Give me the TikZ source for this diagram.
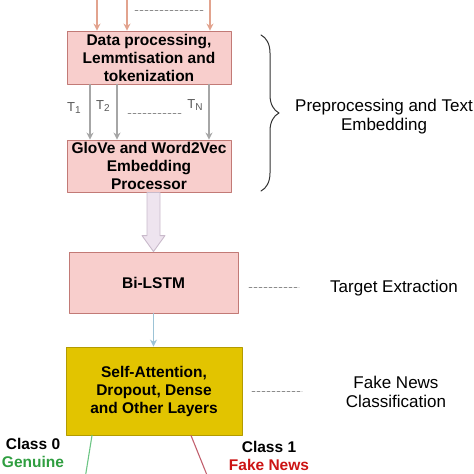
\documentclass[tikz,border=0pt]{standalone}
\usepackage{fontspec}
\setmainfont{Liberation Sans}
\usepackage{tikz}
\usetikzlibrary{calc}
\usetikzlibrary{arrows.meta}
\usetikzlibrary{decorations.pathreplacing}
\definecolor{boxfill}{HTML}{F8CECC}
\definecolor{boxline}{HTML}{C27A76}
\definecolor{attnfill}{HTML}{E2C400}
\definecolor{attnline}{HTML}{B39B00}
\definecolor{inarrow}{HTML}{E2A38E}
\definecolor{tokarrow}{HTML}{A6A6A6}
\definecolor{hollowfill}{HTML}{EEE4EF}
\definecolor{hollowline}{HTML}{C9BACB}
\definecolor{tealarrow}{HTML}{9CC3D6}
\definecolor{tealtip}{HTML}{5E9E86}
\definecolor{genuine}{HTML}{2F9E40}
\definecolor{fakenews}{HTML}{CC1414}
\definecolor{genline}{HTML}{6CC584}
\definecolor{fakeline}{HTML}{C2606E}
\newcommand{\tsub}[1]{\raisebox{-2.5pt}{\fontsize{10}{12}\selectfont #1}}

\begin{document}
\begin{tikzpicture}[x=1pt, y=-1pt, line cap=round, line join=round, >={Stealth[length=7pt, width=7pt]},
    box/.style={draw=boxline, fill=boxfill, line width=0.9pt, align=center, inner sep=0pt,
      font=\fontsize{15.5}{18}\selectfont\bfseries},
    side/.style={align=center, font=\fontsize{17}{19}\selectfont},
    classlbl/.style={align=center, font=\fontsize{15.5}{17.5}\selectfont\bfseries},
    tlbl/.style={text=black!65, font=\fontsize{13}{15}\selectfont},
    dots/.style={densely dashed, draw=black!45, line width=0.8pt},
    hollow/.style={draw=hollowline, fill=hollowfill, line width=0.9pt}]
  \useasboundingbox (0,0) rectangle (474,474);
  \clip (0,0) rectangle (474,474);
  %--- Preprocessing
    \node[box, minimum width=164pt, minimum height=53pt] (prep) at (149, 57.5) {Data processing,\\ Lemmtisation and\\ tokenization};
    \node[box, minimum width=164pt, minimum height=52pt] (embed) at (149, 166) {GloVe and Word2Vec\\ Embedding\\ Processor};
  %--- Bi-LSTM
    \node[box, minimum width=169pt, minimum height=61pt] (lstm) at (153.5, 282.5) {Bi-LSTM};
  %--- Classification layers
    \node[box, draw=attnline, fill=attnfill, minimum width=176pt, minimum height=88pt] (attn) at (154, 391) {Self-Attention,\\ Dropout, Dense\\ and Other Layers};
  % Inputs
    \coordinate (in1) at (97, -5);
    \coordinate (in2) at (127, -5);
    \coordinate (inN) at (210, -5);
    \draw[->, draw=inarrow, fill=inarrow, line width=1.1pt] (in1) -- (in1 |- prep.north);
    \draw[->, draw=inarrow, fill=inarrow, line width=1.1pt] (in2) -- (in2 |- prep.north);
    \draw[->, draw=inarrow, fill=inarrow, line width=1.1pt] (inN) -- (inN |- prep.north);
    \coordinate (indotsA) at (135, 10);
    \coordinate (indotsB) at (204, 10);
    \draw[dots] (indotsA) -- (indotsB);
  % Tokens
    \coordinate (t1) at (90 ,0 |- prep.south);
    \coordinate (t2) at (117, 0 |- prep.south);
    \coordinate (tN) at (209, 0 |- prep.south);
    \draw[->, draw=tokarrow, fill=tokarrow, line width=1.1pt] (t1) -- (t1 |- embed.north);
    \draw[->, draw=tokarrow, fill=tokarrow, line width=1.1pt] (t2) -- (t2 |- embed.north);
    \draw[->, draw=tokarrow, fill=tokarrow, line width=1.1pt] (tN) -- (tN |- embed.north);
    \node[tlbl] (t1lbl) at (74, 108) {T\tsub{1}};
    \node[tlbl] (t2lbl) at (103, 106) {T\tsub{2}};
    \node[tlbl] (tNlbl) at (195, 105) {T\tsub{N}};
    \coordinate (tdotsA) at (128, 113);
    \coordinate (tdotsB) at (182, 113);
    \draw[dots] (tdotsA) -- (tdotsB);
  % Brace
    \coordinate (braceA) at (261, 35);
    \coordinate (braceB) at (261, 191);
    \draw[decorate, decoration={brace, amplitude=18pt}, draw=black!80, line width=1pt] (braceA) -- (braceB);
    \node[side] (prepside) at (384, 116.5) {Preprocessing and Text\\ Embedding};
  % Embedding to Bi-LSTM
    \coordinate (htop) at (lstm.north |- embed.south);
    \coordinate (hbot) at (lstm.north);
    \draw[hollow] ($(htop)+(-6.5,0)$) -- ($(hbot)+(-6.5,-16)$) -- ($(hbot)+(-11.5,-16)$) -- (hbot)
      -- ($(hbot)+(11.5,-16)$) -- ($(hbot)+(6.5,-16)$) -- ($(htop)+(6.5,0)$) -- cycle;
  % Bi-LSTM to layers
    \draw[->, draw=tealarrow, fill=tealtip, line width=1.1pt] (lstm.south) -- (lstm.south |- attn.north);
  % Side labels
    \coordinate (lstmdotsA) at (249, 287);
    \coordinate (lstmdotsB) at (299, 287);
    \draw[dots] (lstmdotsA) -- (lstmdotsB);
    \node[side] (target) at (394, 288) {Target Extraction};
    \coordinate (attndotsA) at (252, 391);
    \coordinate (attndotsB) at (302, 391);
    \draw[dots] (attndotsA) -- (attndotsB);
    \node[side] (fakeside) at (396, 391.5) {Fake News\\ Classification};
  % Outputs
    \coordinate (genend) at (84, 485);
    \coordinate (fakeend) at (211, 485);
    \draw[draw=genline, line width=1.1pt] (92, 0 |- attn.south) -- (genend);
    \draw[draw=fakeline, line width=1.1pt] (191, 0 |- attn.south) -- (fakeend);
    \node[classlbl] (class0) at (33, 453) {Class 0\\ \textcolor{genuine}{Genuine}};
    \node[classlbl] (class1) at (269, 456) {Class 1\\ \textcolor{fakenews}{Fake News}};
\end{tikzpicture}
\end{document}
